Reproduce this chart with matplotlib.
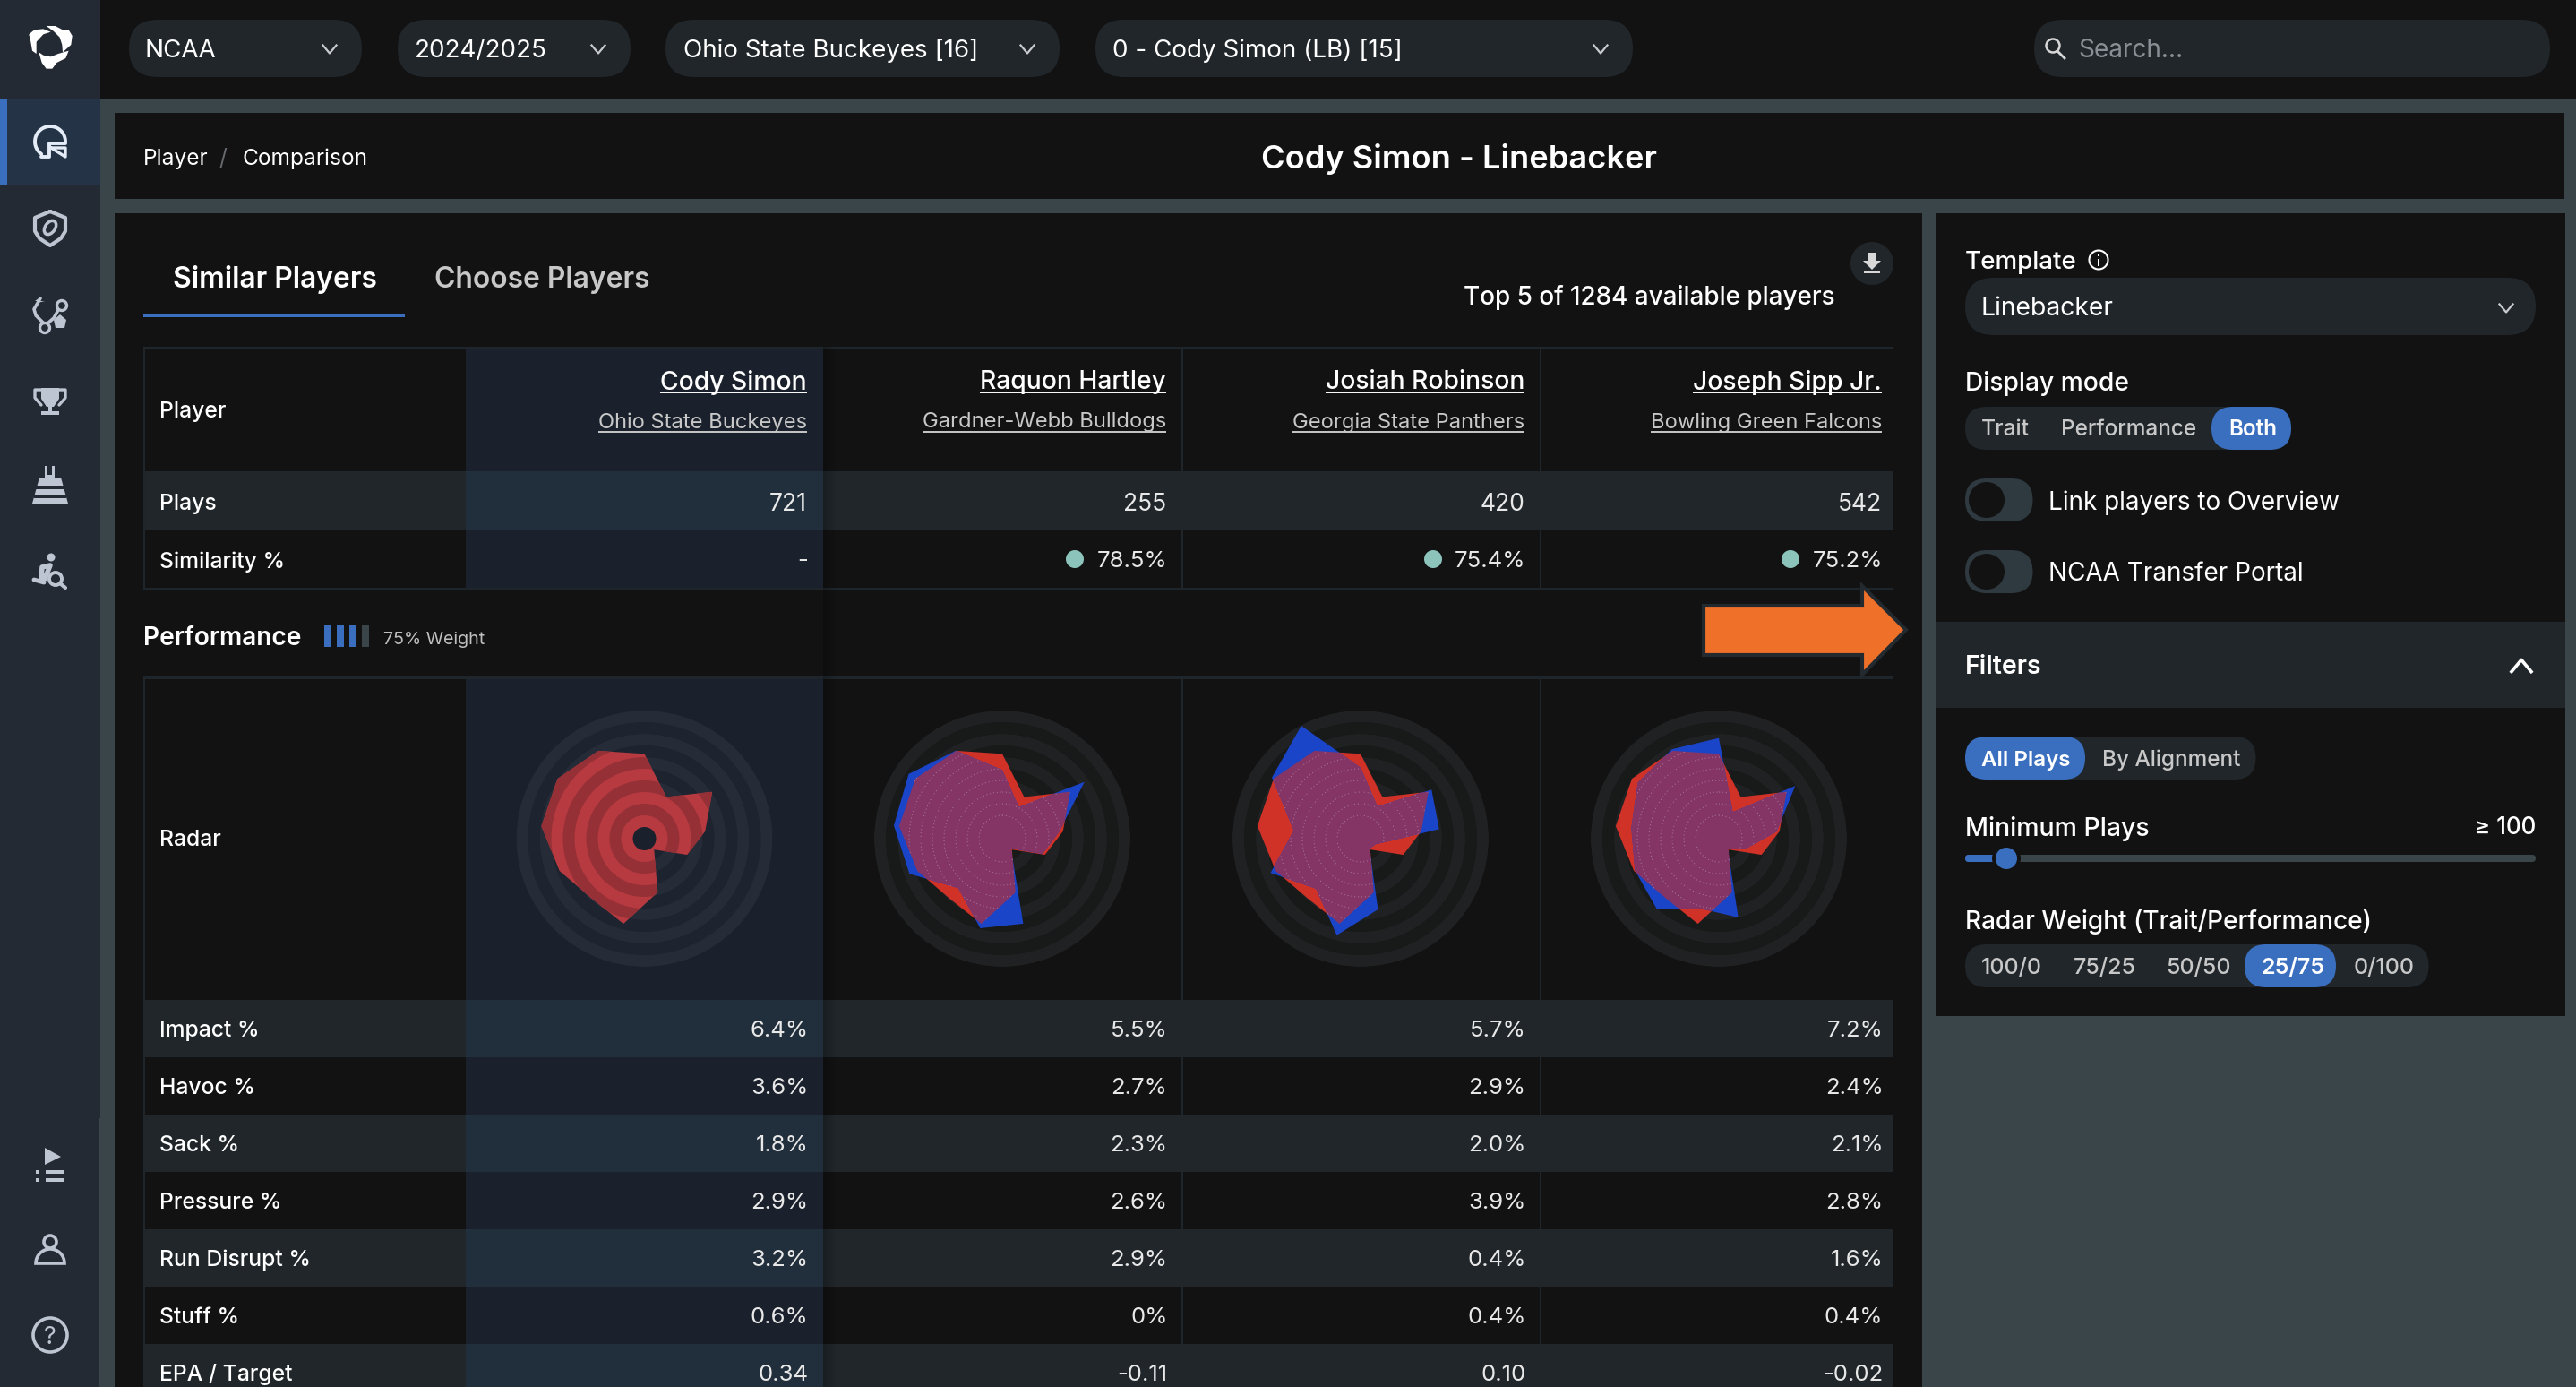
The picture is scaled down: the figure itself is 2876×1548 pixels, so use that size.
import numpy as np
import matplotlib
matplotlib.use('Agg')
import matplotlib.pyplot as plt
from matplotlib.patches import FancyBboxPatch, Rectangle, Circle, Polygon, Wedge, Ellipse
from matplotlib.path import Path

plt.rcParams['font.family'] = ['Inter', 'DejaVu Sans']

W, H = 2876, 1548

# table data
players = ['Cody Simon', 'Raquon Hartley', 'Josiah Robinson', 'Joseph Sipp Jr.']
teams = ['Ohio State Buckeyes', 'Gardner-Webb Bulldogs', 'Georgia State Panthers', 'Bowling Green Falcons']
plays = ['721', '255', '420', '542']
similarity = ['-', '78.5%', '75.4%', '75.2%']
metric_names = ['Impact %', 'Havoc %', 'Sack %', 'Pressure %', 'Run Disrupt %', 'Stuff %', 'EPA / Target']
impact = ['6.4%', '5.5%', '5.7%', '7.2%']
havoc = ['3.6%', '2.7%', '2.9%', '2.4%']
sack = ['1.8%', '2.3%', '2.0%', '2.1%']
pressure = ['2.9%', '2.6%', '3.9%', '2.8%']
run_disrupt = ['3.2%', '2.9%', '0.4%', '1.6%']
stuff = ['0.6%', '0%', '0.4%', '0.4%']
epa_target = ['0.34', '-0.11', '0.10', '-0.02']

# radar values, percentile on 13 axes clockwise from the top
radar_simon = [62.8, 30.4, 60.8, 42.5, 29.2, 2.5, 37.5, 65.3, 58.5, 68.0, 79.2, 80.7, 75.2]
radar_hartley = [49.0, 20.6, 75.8, 39.2, 27.0, 1.2, 65.2, 69.2, 46.8, 75.2, 83.8, 87.7, 75.4]
radar_robinson = [51.0, 21.2, 64.1, 58.0, 3.8, 1.5, 52.6, 75.4, 47.5, 72.7, 47.7, 82.5, 99.5]
radar_sipp = [76.4, 15.8, 69.7, 40.0, 14.6, 1.5, 59.7, 52.0, 70.5, 67.0, 65.7, 74.6, 76.7]

BG = '#121212'
SLATE = '#3a454a'
SIDE = '#232a33'
PILL = '#20262a'
BLUE = '#3a6fc0'
ICON = '#bcc5d1'
ACTIVE = '#e4ecf7'
HEAD = '#1a212c'
HEAD_ROW = '#212e3b'
LINE = '#1f262b'


def fs(px):
    return px * 0.72


fig = plt.figure(figsize=(W / 100, H / 100), dpi=100, facecolor=SLATE)
ax = fig.add_axes([0, 0, 1, 1])
ax.set_xlim(0, W)
ax.set_ylim(H, 0)
ax.axis('off')


def rect(x0, y0, x1, y1, color, z=1, alpha=None):
    ax.add_patch(Rectangle((x0, y0), x1 - x0, y1 - y0, fc=color, ec='none', zorder=z, alpha=alpha))


def pill(x0, y0, x1, y1, color, z=2):
    h = y1 - y0
    ax.add_patch(FancyBboxPatch((x0, y0), x1 - x0, h, boxstyle=f'round,pad=0,rounding_size={h / 2}',
                                fc=color, ec='none', zorder=z))


def txt(x, y, s, px=24.5, color='white', ha='left', weight='normal', z=5):
    return ax.text(x, y, s, fontsize=fs(px), color=color, ha=ha, va='center_baseline', weight=weight, zorder=z)


def chevron(x, y, color='#c8ccd0', size=7.5, up=False, lw=1.6):
    d = -size * 1.2 if up else size * 1.2
    ax.plot([x - size, x, x + size], [y - d / 2, y + d / 2, y - d / 2], color=color, lw=lw, zorder=5)


def underlined(x, y, s, px, color, weight='normal', dy=15):
    t = txt(x, y, s, px, color, 'right', weight)
    bb = t.get_window_extent(fig.canvas.get_renderer())
    ax.plot([x - bb.width, x], [y + dy, y + dy], color=color, lw=1.4, zorder=5, solid_capstyle='butt')


# page frame
rect(0, 0, W, 110, BG)
rect(0, 0, 112, 1248, SIDE, 2)
rect(0, 1248, 110, H, SIDE, 2)
rect(0, 110, 112, 206, '#253347', 3)
rect(0, 110, 8, 206, BLUE, 3)
rect(128, 126, 2863, 222, BG)
rect(128, 238, 2146, H, BG)
rect(2162, 238, 2864, 1134, BG)
rect(2162, 694, 2864, 790, PILL)

# top bar
for x0, x1, label, tx in [(144, 404, 'NCAA', 162), (444, 704, '2024/2025', 463),
                          (743, 1183, 'Ohio State Buckeyes [16]', 763),
                          (1223, 1823, '0 - Cody Simon (LB) [15]', 1242)]:
    pill(x0, 22, x1, 86, PILL)
    txt(tx, 54, label, 27.8)
    chevron(x1 - 36, 55)
pill(2271, 22, 2847, 86, PILL)
txt(2320, 54, 'Search...', 28, '#8a8f96')
ax.add_patch(Circle((2292, 51), 7.5, fc='none', ec='#d8d8d8', lw=1.8, zorder=5))
ax.plot([2297, 2305], [57, 65], color='#d8d8d8', lw=2, zorder=5)

# breadcrumb and title
txt(160, 175, 'Player', 24.5)
txt(249, 175, '/', 24.5, '#666a6e', 'center')
txt(271, 175, 'Comparison', 24.5)
txt(1629, 174, 'Cody Simon - Linebacker', 36.2, ha='center', weight='semibold')

# tabs
txt(193, 309, 'Similar Players', 31.8, weight='semibold')
txt(485, 309, 'Choose Players', 31.8, '#c8c8c8', weight='semibold')
rect(160, 350, 452, 354, BLUE)
txt(2049, 329, 'Top 5 of 1284 available players', 27.9, ha='right', weight='medium')
ax.add_patch(Circle((2090, 294), 24, fc=PILL, ec='none', zorder=2))
ax.add_patch(Polygon([[2085, 282], [2095, 282], [2095, 291], [2100, 291], [2090, 301], [2080, 291], [2085, 291]],
                     fc='#d8d8d8', ec='none', zorder=5))
rect(2081, 303, 2099, 305, '#d8d8d8', 5)

# table geometry
col_edges = [520, 919, 1319, 1719, 2113]
right_x = [901, 1302, 1702, 2101]
table_left = 160

# player table
rect(520, 389, 919, 656, HEAD)
rect(table_left, 526, 2113, 592, PILL, 2)
rect(520, 526, 919, 592, HEAD_ROW, 3)
for y in [387, 656]:
    rect(table_left, y, 2113, y + 3, LINE, 3)
rect(table_left, 387, table_left + 2, 658, LINE, 3)
for x in col_edges[2:4]:
    rect(x, 389, x + 2, 526, LINE, 3)
    rect(x, 592, x + 2, 656, LINE, 3)

txt(178, 457, 'Player', 24.7, weight='medium')
txt(178, 560, 'Plays', 24.7, weight='medium')
txt(178, 625, 'Similarity %', 24.7, weight='medium')
for i in range(4):
    underlined(right_x[i], 424, players[i], 28.3, 'white', 'medium', dy=14)
    underlined(right_x[i], 469, teams[i], 23.7, '#c8c8c8', dy=13)
    txt(right_x[i], 560, plays[i], 26.5, '#e8e8e8', 'right')
    txt(right_x[i] + 1, 624, similarity[i], 25.7, '#e8e8e8', 'right')
    if i > 0:
        ax.add_patch(Circle((right_x[i] - 102, 624), 10, fc='#8cc3bb', ec='none', zorder=5))

# performance heading
txt(160, 710, 'Performance', 28.1, weight='semibold')
for x, c in zip([362, 376, 390, 404], [BLUE, BLUE, BLUE, SLATE]):
    rect(x, 698, x + 8, 722, c)
txt(428, 712, '75% Weight', 19.6, '#c0c0c0')

# performance table
rect(520, 757, 919, 1116, HEAD)
rect(table_left, 755, 2113, 758, LINE, 3)
rect(table_left, 755, table_left + 2, 1116, LINE, 3)
for x in col_edges[2:4]:
    rect(x, 757, x + 2, 1116, LINE, 3)
txt(178, 935, 'Radar', 24.7, weight='medium')

metric_rows = [impact, havoc, sack, pressure, run_disrupt, stuff, epa_target]
row_h = 64
for r, (name, vals) in enumerate(zip(metric_names, metric_rows)):
    y0 = 1116 + r * row_h
    if r % 2 == 0:
        rect(table_left, y0, 2113, y0 + row_h, PILL, 2)
    rect(520, y0, 919, y0 + row_h, HEAD_ROW if r % 2 == 0 else HEAD, 3)
    if r % 2 == 1:
        for x in col_edges[2:4]:
            rect(x, y0, x + 2, y0 + row_h, LINE, 3)
    rect(table_left, y0, table_left + 2, y0 + row_h, LINE if r % 2 else PILL, 3)
    txt(178, y0 + 32, name, 24.7, weight='medium')
    for i in range(4):
        txt(right_x[i] + 1.5, y0 + 32, vals[i], 25.7, '#e8e8e8', 'right')

# soft shadow right of the pinned column
for j in range(14):
    rect(919 + j, 387, 920 + j, H, 'black', 4, alpha=0.22 * (1 - j / 14))

# radars
radar_cx = [719.5, 1119, 1519, 1919]
radar_cy = 936
radar_R = 143
n_axes = 13
theta = np.arange(n_axes + 1) * 2 * np.pi / n_axes


def closed(vals):
    return np.array(list(vals) + [vals[0]])


def xy_path(vals):
    r = closed(vals) + 10
    return Path(np.c_[r * np.sin(theta), r * np.cos(theta)])


def radar_axes(cx):
    rax = fig.add_axes([(cx - radar_R) / W, 1 - (radar_cy + radar_R) / H, 2 * radar_R / W, 2 * radar_R / H],
                       projection='polar', zorder=4)
    rax.set_theta_zero_location('N')
    rax.set_theta_direction(-1)
    rax.set_ylim(0, 100)
    rax.set_rorigin(-10)
    rax.set_xticks([])
    rax.set_yticks([])
    rax.patch.set_alpha(0)
    # polar draw() turns the inner spine back on, so zero the width too
    for s in rax.spines.values():
        s.set_linewidth(0)
        s.set_visible(False)
    return rax


def rings(rax, light, dark):
    for k in range(10):
        rax.bar(np.pi, 10, width=2 * np.pi, bottom=k * 10, color=light if k % 2 else dark, lw=0, zorder=1)


rax = radar_axes(radar_cx[0])
rings(rax, '#252c38', '#1d242f')
base = rax.fill(theta, closed(radar_simon), color='#b63a40', lw=0, zorder=2)[0]
for k in range(1, 10, 2):
    ring = rax.bar(np.pi, 10, width=2 * np.pi, bottom=k * 10, color='#953036', lw=0, zorder=3)[0]
    ring.set_clip_path(base)

grid_theta = np.linspace(0, 2 * np.pi, 900)
for cx, other in zip(radar_cx[1:], [radar_hartley, radar_robinson, radar_sipp]):
    rax = radar_axes(cx)
    rings(rax, '#202122', '#181919')
    rax.fill(theta, closed(radar_simon), color='#d03228', lw=0, zorder=2)
    blue = rax.fill(theta, closed(other), color='#1a45c8', lw=0, zorder=3)[0]
    both = rax.fill(theta, closed(radar_simon), color='#853565', lw=0, zorder=4)[0]
    both.set_clip_path(blue)
    p_red, p_blue = xy_path(radar_simon), xy_path(other)
    for k in range(1, 10):
        r = k * 10
        pts = np.c_[(r + 10) * np.sin(grid_theta), (r + 10) * np.cos(grid_theta)]
        inside = p_red.contains_points(pts) & p_blue.contains_points(pts)
        rax.plot(grid_theta, np.where(inside, r, np.nan), color='#a87f9f', lw=0.7, ls=(0, (1, 3)), zorder=5)

# annotation arrow
ax.add_patch(Polygon([[1902, 676], [2079, 676], [2079, 654], [2128, 703], [2079, 753], [2079, 731], [1902, 731]],
                     fc='#ef7029', ec='#22292f', lw=3, joinstyle='miter', zorder=6))

# right panel
txt(2194, 290, 'Template', 27.8, weight='medium')
ax.add_patch(Circle((2343, 290), 10.5, fc='none', ec='white', lw=1.5, zorder=5))
rect(2342, 289, 2344, 297, 'white', 5)
rect(2342, 283, 2344, 286, 'white', 5)
pill(2194, 310, 2831, 374, PILL)
txt(2212, 342, 'Linebacker', 28.3)
chevron(2798, 344)
txt(2194, 425, 'Display mode', 28.2, weight='medium')
pill(2194, 454, 2558, 502, PILL)
pill(2469, 454, 2558, 502, BLUE, 3)
txt(2212, 477, 'Trait', 24.5, '#c8c8c8', weight='medium')
txt(2301, 477, 'Performance', 24.4, '#c8c8c8', weight='medium')
txt(2488, 477, 'Both', 24.2, weight='semibold')
for y0, label in [(534, 'Link players to Overview'), (614, 'NCAA Transfer Portal')]:
    pill(2194, y0, 2269.5, y0 + 48, '#2f3940')
    ax.add_patch(Circle((2218, y0 + 24), 20, fc=BG, ec='none', zorder=3))
    txt(2287, y0 + 24, label, 27.9)

txt(2194, 742, 'Filters', 28.5, weight='semibold')
chevron(2815, 743, 'white', 11, up=True, lw=2.6)
pill(2194, 822, 2518.5, 870, PILL)
pill(2194, 822, 2328, 870, BLUE, 3)
txt(2212, 846, 'All Plays', 24.1, weight='semibold')
txt(2347, 846, 'By Alignment', 24.4, '#c8c8c8', weight='medium')
txt(2194, 922, 'Minimum Plays', 28.5, weight='medium')
txt(2831, 921, '≥ 100', 26, ha='right', weight='medium')
pill(2194, 954, 2831, 962, SLATE)
pill(2194, 954, 2240, 962, BLUE, 3)
ax.add_patch(Circle((2240, 958), 16, fc=BG, ec='none', zorder=4))
ax.add_patch(Circle((2240, 958), 12, fc=BLUE, ec='none', zorder=5))
txt(2194, 1026, 'Radar Weight (Trait/Performance)', 28, weight='medium')
pill(2194, 1054, 2711.6, 1102, PILL)
pill(2506, 1054, 2608, 1102, BLUE, 3)
for x, label in zip([2212, 2315, 2418.5, 2524.5, 2628], ['100/0', '75/25', '50/50', '25/75', '0/100']):
    active = label == '25/75'
    txt(x, 1078, label, 25, 'white' if active else '#c8c8c8', weight='semibold' if active else 'medium')


# sidebar icons
def icon_poly(pts, color=ICON):
    ax.add_patch(Polygon(pts, fc=color, ec='none', zorder=6))


def icon_line(xs, ys, color=ICON, lw=2.6):
    ax.plot(xs, ys, color=color, lw=lw, zorder=6, solid_capstyle='round')


def logo_pts(pts):
    return [[20 + x / 3, 15 + y / 3] for x, y in pts]


# logo
icon_poly(logo_pts([(37, 70), (55, 55), (85, 52), (110, 62), (85, 70), (62, 95), (62, 135), (48, 125), (43, 95)]), 'white')
icon_poly(logo_pts([(95, 42), (125, 42), (150, 55), (170, 55), (182, 75), (178, 105), (150, 130), (148, 105),
                    (140, 80), (120, 60)]), 'white')
icon_poly(logo_pts([(70, 130), (85, 140), (110, 145), (135, 135), (170, 125), (160, 150), (130, 165), (115, 185),
                    (95, 185), (80, 165)]), 'white')

# helmet
a = np.deg2rad(np.linspace(235, 0, 40))
icon_line(np.r_[56 + 17 * np.cos(a), 73, 55, 55, 46], np.r_[158 - 17 * np.sin(a), 160, 160, 175, 175], ACTIVE, 2.8)
icon_line([57, 73, 73, 57], [165, 165, 175, 165], ACTIVE, 2.4)

# shield
icon_line([56, 73, 73, 68, 56, 44, 39, 39, 56], [236, 243, 258, 266, 274, 266, 258, 243, 236], lw=3)
ax.add_patch(Ellipse((56, 254), 11, 17, angle=35, fc='none', ec=ICON, lw=2.5, zorder=6))

# route
ax.add_patch(Circle((50, 366), 5.5, fc='none', ec=ICON, lw=2.4, zorder=6))
ax.add_patch(Circle((69, 341), 5.5, fc='none', ec=ICON, lw=2.4, zorder=6))
icon_line([45, 38, 40, 48], [333, 345, 352, 360])
icon_line([53, 60, 65], [361, 355, 346])
icon_poly([[67, 351], [74, 357], [72, 366], [62, 366], [60, 357]])
icon_poly([[46, 331], [42, 338], [50, 336], [39, 336]])

# trophy
icon_poly([[46, 433], [66, 433], [66, 445], [60, 454], [58, 454], [58, 459], [54, 459], [54, 454], [52, 454], [46, 445]])
icon_line([46, 39, 39, 46], [435, 435, 444, 452], lw=2.4)
icon_line([66, 73, 73, 66], [435, 435, 444, 452], lw=2.4)
rect(46, 459, 66, 463, ICON, 6)

# podium
icon_poly([[44, 533], [68, 533], [76, 562], [36, 562]])
for y in [542, 552]:
    rect(38, y, 74, y + 3.5, SIDE, 7)
rect(50, 520, 53, 533, ICON, 6)
rect(58, 520, 61, 533, ICON, 6)
rect(50, 530, 61, 534, ICON, 6)

# player search
ax.add_patch(Circle((57, 622), 4.5, fc=ICON, ec='none', zorder=6))
icon_line([46, 47, 56, 50], [645, 633, 631, 646], lw=4)
icon_line([38, 49], [647, 650], lw=3.5)
ax.add_patch(Circle((62, 646), 7, fc='none', ec=ICON, lw=2.8, zorder=6))
icon_line([67, 73], [651, 656], lw=3)

# playlist
icon_poly([[50, 1281], [68, 1291], [50, 1300]])
rect(40, 1306, 44, 1310, ICON, 6)
rect(51, 1306, 72, 1310, ICON, 6)
rect(40, 1315, 44, 1319, ICON, 6)
rect(51, 1315, 72, 1319, ICON, 6)

# person
ax.add_patch(Circle((56, 1386), 7, fc='none', ec=ICON, lw=2.6, zorder=6))
ax.add_patch(Wedge((56, 1410), 16, 180, 360, fc='none', ec=ICON, lw=2.6, zorder=6))

# help
ax.add_patch(Circle((56, 1490), 19, fc='none', ec=ICON, lw=2.6, zorder=6))
txt(56, 1490, '?', 27, ICON, 'center', z=6)

fig.savefig('out.png', dpi=100, facecolor=fig.get_facecolor())
